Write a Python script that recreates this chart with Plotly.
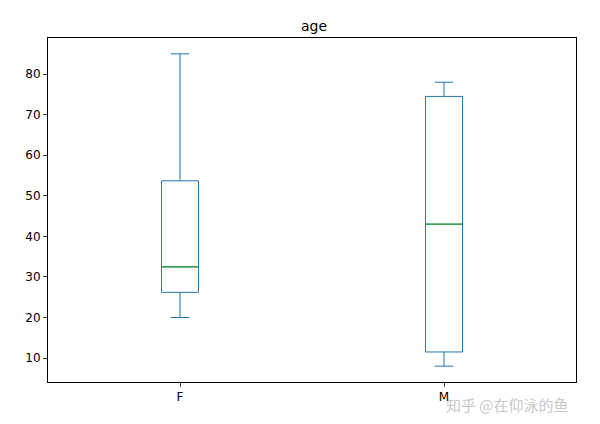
import plotly.graph_objects as go

groups = ["F", "M"]
positions = [1, 2]
lower = [20, 8]
q1 = [26.2, 11.5]
median = [32.5, 43.0]
q3 = [53.7, 74.5]
upper = [85, 78]

box_w = 0.14
blue = "#1f77b4"

fig = go.Figure()
fig.add_trace(go.Box(
    x=positions, q1=q1, median=median, q3=q3,
    lowerfence=lower, upperfence=upper,
    width=box_w, whiskerwidth=0.5,
    fillcolor="rgba(0,0,0,0)", line=dict(color=blue, width=1),
    showlegend=False, hoverinfo="skip",
))

# green median lines like matplotlib
for p, m in zip(positions, median):
    fig.add_trace(go.Scatter(
        x=[p - box_w / 2, p + box_w / 2], y=[m, m], mode="lines",
        line=dict(color="#2ca02c", width=1.2), showlegend=False, hoverinfo="skip",
    ))

fig.update_layout(
    width=600, height=424,
    margin=dict(l=40, r=32, t=30, b=50),
    paper_bgcolor="white", plot_bgcolor="white",
    font=dict(family="DejaVu Sans", size=12, color="black"),
    title=dict(text="age", x=0.51, y=0.97, xanchor="center", font=dict(size=14)),
    xaxis=dict(range=[0.5, 2.5], tickvals=positions, ticktext=groups,
               showgrid=False, zeroline=False, showline=True, linecolor="black",
               mirror=True, ticks="outside", ticklen=4),
    yaxis=dict(range=[4.1, 88.9], tickvals=[10, 20, 30, 40, 50, 60, 70, 80],
               showgrid=False, zeroline=False, showline=True, linecolor="black",
               mirror=True, ticks="outside", ticklen=4),
    annotations=[dict(text="知乎 @在仰泳的鱼", x=0.99, y=-0.03, xref="paper", yref="paper",
                      xanchor="right", yanchor="top", showarrow=False,
                      font=dict(family="Noto Sans CJK SC", size=15, color="#c8c8c8"))],
)

fig.write_html("out.html")
